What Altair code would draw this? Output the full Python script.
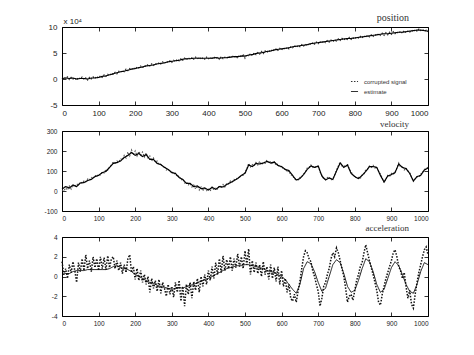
import altair as alt
import pandas as pd

SERIES = ["corrupted signal", "estimate"]
T5 = list(range(0, 1001, 5))
T10 = list(range(0, 1001, 10))
X_TICKS = list(range(0, 1001, 100))

# position (x 10^4)
pos_corrupted = [
    0.0, 0.3, 0.1, 0.4, -0.1, 0.3, 0.0, 0.2, -0.2, 0.3,
    0.0, 0.4, -0.1, 0.2, -0.2, 0.3, 0.0, 0.4, 0.1, 0.5,
    0.2, 0.6, 0.3, 0.8, 0.5, 0.9, 0.7, 1.1, 0.9, 1.3,
    1.0, 1.5, 1.3, 1.6, 1.4, 1.9, 1.6, 2.0, 1.8, 2.2,
    1.9, 2.3, 2.1, 2.5, 2.2, 2.6, 2.4, 2.8, 2.5, 2.9,
    2.6, 3.0, 2.8, 3.1, 2.9, 3.3, 3.0, 3.4, 3.2, 3.5,
    3.2, 3.6, 3.4, 3.8, 3.5, 3.9, 3.6, 4.0, 3.7, 4.1,
    3.8, 4.1, 3.8, 4.2, 3.9, 4.2, 3.8, 4.1, 3.8, 4.2,
    3.9, 4.2, 3.8, 4.3, 3.9, 4.2, 3.8, 4.3, 3.9, 4.2,
    4.0, 4.4, 4.0, 4.5, 4.1, 4.4, 4.0, 4.6, 4.2, 4.8,
    4.0, 4.7, 4.4, 4.9, 4.5, 5.0, 4.7, 5.1, 4.8, 5.3,
    4.9, 5.4, 5.1, 5.5, 5.2, 5.7, 5.4, 5.8, 5.5, 5.9,
    5.6, 6.0, 5.7, 6.1, 5.8, 6.2, 6.0, 6.4, 6.1, 6.4,
    6.2, 6.6, 6.3, 6.7, 6.4, 6.9, 6.6, 7.0, 6.7, 7.1,
    6.8, 7.2, 6.9, 7.3, 7.0, 7.4, 7.1, 7.5, 7.2, 7.5,
    7.3, 7.7, 7.4, 7.8, 7.5, 7.8, 7.6, 8.0, 7.6, 7.9,
    7.7, 8.1, 7.9, 8.2, 7.9, 8.3, 8.0, 8.4, 8.1, 8.5,
    8.2, 8.5, 8.3, 8.7, 8.4, 8.8, 8.4, 8.9, 8.5, 9.0,
    8.6, 9.1, 8.7, 9.0, 8.8, 9.2, 8.8, 9.3, 8.9, 9.2,
    9.0, 9.4, 9.1, 9.5, 9.2, 9.6, 9.3, 9.5, 9.2, 9.4,
    9.1,
]
pos_estimate = [
    0.1, 0.2, 0.1, 0.2, 0.0, 0.1, 0.1, 0.0, 0.2, 0.2,
    0.3, 0.5, 0.6, 0.8, 1.0, 1.2, 1.4, 1.5, 1.7, 1.9,
    2.0, 2.2, 2.3, 2.5, 2.6, 2.7, 2.9, 3.0, 3.1, 3.3,
    3.4, 3.5, 3.6, 3.8, 3.9, 3.9, 4.0, 4.0, 4.0, 4.0,
    4.0, 4.0, 4.1, 4.0, 4.1, 4.1, 4.2, 4.3, 4.3, 4.4,
    4.4, 4.6, 4.7, 4.9, 5.0, 5.1, 5.3, 5.4, 5.6, 5.7,
    5.8, 5.9, 6.0, 6.2, 6.3, 6.4, 6.5, 6.6, 6.8, 6.9,
    7.0, 7.1, 7.2, 7.3, 7.4, 7.5, 7.6, 7.7, 7.8, 7.8,
    7.9, 8.0, 8.1, 8.2, 8.3, 8.4, 8.5, 8.6, 8.7, 8.7,
    8.8, 8.9, 9.0, 9.0, 9.1, 9.2, 9.3, 9.4, 9.4, 9.3,
    9.2,
]

# velocity
vel_corrupted = [
    5, 0, 15, 5, 25, 10, 30, 20, 35, 30,
    45, 40, 50, 45, 60, 55, 68, 62, 78, 72,
    85, 80, 95, 90, 108, 105, 122, 130, 148, 135,
    150, 145, 162, 155, 178, 165, 195, 175, 205, 180,
    200, 175, 198, 180, 195, 170, 190, 165, 175, 150,
    165, 145, 150, 130, 138, 120, 125, 105, 110, 95,
    100, 85, 88, 70, 75, 55, 60, 40, 45, 30,
    38, 20, 30, 10, 25, 5, 20, 0, 15, 2,
    12, 0, 20, 5, 18, 10, 28, 15, 32, 20,
    38, 35, 50, 45, 58, 55, 70, 65, 80, 78,
    95, 110, 138, 120, 132, 125, 142, 130, 148, 132,
    140, 138, 155, 140, 148, 135, 145, 128, 135, 118,
    125, 108, 112, 95, 100, 80, 78, 60, 58, 55,
    68, 72, 85, 95, 115, 118, 130, 118, 125, 115,
    128, 95, 80, 60, 58, 68, 70, 55, 62, 80,
    105, 125, 145, 125, 128, 120, 135, 110, 95, 80,
    72, 65, 68, 62, 80, 85, 105, 110, 125, 118,
    128, 115, 120, 100, 85, 65, 42, 60, 78, 72,
    88, 82, 95, 115, 140, 118, 125, 105, 115, 100,
    92, 70, 48, 60, 72, 68, 85, 92, 108, 112,
    120,
]
vel_estimate = [
    10, 22, 15, 30, 22, 40, 42, 52, 58, 72,
    78, 92, 98, 118, 138, 142, 150, 168, 178, 192,
    178, 188, 172, 182, 158, 158, 138, 132, 118, 108,
    92, 88, 68, 58, 38, 38, 22, 25, 12, 15,
    5, 18, 8, 22, 20, 32, 42, 52, 62, 78,
    88, 130, 122, 138, 135, 140, 148, 140, 145, 128,
    122, 108, 102, 78, 55, 62, 82, 108, 125, 118,
    125, 75, 55, 65, 58, 100, 140, 118, 130, 88,
    72, 62, 78, 98, 122, 122, 118, 78, 45, 75,
    82, 92, 135, 118, 112, 88, 50, 72, 78, 105,
    115,
]

# acceleration
acc_corrupted = [
    1.5, 0.2, 0.8, -0.2, 1.2, 0.4, 1.5, 0.6, -0.6, 1.4,
    0.5, 1.8, 0.6, 2.2, 0.8, 1.6, 0.5, 2.0, 0.9, 1.8,
    0.6, 2.0, 0.8, 1.9, 0.7, 2.1, 0.9, 1.8, 2.0, 0.8,
    1.6, 0.6, 1.4, 0.3, 1.2, 0.4, 1.8, 2.2, 0.4, 1.0,
    -0.3, 0.8, -0.4, 0.6, -0.6, 0.2, -0.8, 0.0, -1.6, -0.2,
    -1.2, -0.4, -1.5, -0.3, -1.7, -0.6, -1.2, -2.0, -0.8, -1.8,
    -1.0, -2.1, -0.6, -1.6, -0.4, -2.5, -1.0, -3.0, -0.8, -1.8,
    -0.6, -2.2, -0.5, -1.4, -0.2, -1.6, 0.0, -1.0, 0.2, -0.8,
    0.6, -0.4, 1.0, -0.2, 1.4, 0.2, 1.8, 0.4, 2.1, 0.6,
    1.7, 0.8, 2.0, 0.6, 1.8, 0.9, 2.3, 1.0, 2.0, 0.8,
    2.6, 1.2, 2.8, 0.2, 1.6, 0.4, 1.4, 0.3, 1.2, 0.0,
    1.5, 0.2, 1.0, -0.3, 1.2, -0.2, 0.9, -0.5, 1.0, -0.8,
    0.6, -1.0, -0.2, -1.6, -0.8, -2.2, -2.5, -1.8, -2.6, -1.5,
    -0.5, 0.8, 2.0, 2.6, 2.4, 1.8, 1.5, 0.6, 0.0, -0.8,
    -1.5, -3.0, -2.2, -1.0, -0.6, 0.2, 0.8, 1.8, 2.4, 2.0,
    2.9, 2.4, 1.6, 0.8, 0.0, -1.2, -2.6, -2.0, -1.8, -2.4,
    -1.4, -0.4, 0.2, 1.0, 1.4, 2.4, 3.2, 2.4, 1.6, 0.9,
    0.2, -0.6, -1.4, -2.6, -2.9, -1.8, -1.0, -0.2, 0.4, 1.0,
    1.6, 2.4, 2.7, 2.0, 1.0, 0.6, -0.2, 0.4, -1.0, -2.2,
    -1.4, -2.8, -3.2, -1.8, -0.6, 0.4, 1.2, 2.0, 2.7, 3.0,
    2.2,
]
acc_estimate = [
    0.2, 0.3, 0.3, 0.5, 0.6, 0.6, 0.6, 0.7, 0.7, 0.7,
    0.7, 0.7, 0.7, 0.8, 1.0, 1.1, 0.9, 0.8, 0.7, 0.5,
    0.2, 0.0, -0.2, -0.4, -0.6, -0.7, -0.9, -1.0, -1.1, -1.2,
    -1.3, -1.2, -1.1, -1.2, -1.0, -0.9, -0.8, -0.6, -0.5, -0.3,
    -0.2, 0.0, 0.2, 0.4, 0.6, 0.8, 0.9, 1.0, 1.1, 1.1,
    1.2, 1.2, 1.1, 1.0, 0.9, 0.8, 0.6, 0.5, 0.4, 0.2,
    0.0, -0.3, -0.8, -1.3, -1.7, -0.8, 0.8, 1.5, 1.3, 0.5,
    -0.6, -1.5, -1.2, 0.0, 1.2, 1.7, 1.4, 0.3, -1.0, -1.6,
    -1.4, -0.4, 0.8, 1.8, 1.5, 0.5, -0.8, -1.6, -1.3, -0.2,
    0.9, 1.5, 1.1, 0.2, -0.8, -1.5, -1.7, -0.8, 0.5, 1.4,
    1.2,
]


def make_df(corr, est):
    assert len(corr) == len(T5), len(corr)
    assert len(est) == len(T10), len(est)
    d1 = pd.DataFrame({"t": T5, "value": corr, "series": SERIES[0]})
    d2 = pd.DataFrame({"t": T10, "value": est, "series": SERIES[1]})
    return pd.concat([d1, d2], ignore_index=True)


def panel(df, ydom, yticks, h, title, tsize, tdy, lsize, show_legend,
          corr_style, est_style, ytitle=None):
    xs = alt.Scale(domain=[0, 1000], nice=False, zero=False)
    ys = alt.Scale(domain=ydom, nice=False, zero=False)
    common = dict(offset=-4, tickSize=4, domain=False, grid=False,
                  tickColor="black", tickWidth=0.8)
    xax = alt.Axis(orient="bottom", values=X_TICKS, labelPadding=4,
                   labelExpr="datum.value + ''", labelColor="#222",
                   labelFont="Liberation Sans", labelFontSize=lsize,
                   title=None, **common)
    yargs = dict(orient="left", values=yticks, labelPadding=5,
                 labelExpr="datum.value + ''", labelColor="#222",
                 labelFont="Liberation Sans", labelFontSize=lsize, **common)
    if ytitle:
        yargs.update(title=ytitle, titleAngle=0, titleX=-3, titleY=-4,
                     titleAlign="left", titleBaseline="alphabetic",
                     titleFont="Liberation Sans", titleFontSize=8,
                     titleFontWeight="normal", titleColor="#222")
    else:
        yargs.update(title=None)
    yax = alt.Axis(**yargs)
    xax2 = alt.Axis(orient="top", values=X_TICKS, labels=False, title=None, **common)
    yax2 = alt.Axis(orient="right", values=yticks, labels=False, title=None, **common)

    if show_legend:
        legend = alt.Legend(orient="none", legendX=288, legendY=50, title=None,
                            symbolType="stroke", symbolSize=50,
                            symbolStrokeWidth=1.2, symbolStrokeColor="#333",
                            labelFont="Liberation Sans", labelFontSize=6,
                            labelColor="#333", rowPadding=2, labelOffset=5)
    else:
        legend = None
    dash = alt.StrokeDash("series:N",
                          scale=alt.Scale(domain=SERIES, range=[[1.5, 1.5], [1, 0]]),
                          legend=legend)

    base = alt.Chart(df)
    corr = base.transform_filter(alt.datum.series == SERIES[0]).mark_line(
        **corr_style
    ).encode(
        x=alt.X("t:Q", scale=xs, axis=xax),
        y=alt.Y("value:Q", scale=ys, axis=yax),
        strokeDash=dash,
    )
    est = base.transform_filter(alt.datum.series == SERIES[1]).mark_line(
        **est_style
    ).encode(
        x=alt.X("t:Q", scale=xs, axis=xax2),
        y=alt.Y("value:Q", scale=ys, axis=yax2),
        strokeDash=dash,
    )
    return alt.layer(corr, est).resolve_axis(x="independent", y="independent").properties(
        width=366, height=h,
        title=alt.TitleParams(text=title, anchor="end", dx=-19, dy=tdy, offset=0,
                              frame="group", baseline="alphabetic",
                              font="Liberation Serif", fontSize=tsize,
                              fontWeight="normal", color="#333"),
    )


p1 = panel(make_df(pos_corrupted, pos_estimate), [-5, 10], [-5, 0, 5, 10], 78,
           "position", 10, 14, 8, True,
           dict(color="#333", strokeWidth=1.2), dict(color="black", strokeWidth=1.1),
           ytitle="x 10⁴")
p2 = panel(make_df(vel_corrupted, vel_estimate), [-100, 300], [-100, 0, 100, 200, 300], 80,
           "velocity", 9, 8, 6.5, False,
           dict(color="#555", strokeWidth=1.1), dict(color="black", strokeWidth=1.2))
p3 = panel(make_df(acc_corrupted, acc_estimate), [-4, 4], [-4, -2, 0, 2, 4], 79,
           "acceleration", 9, 6, 6.5, False,
           dict(color="#111", strokeWidth=1.5), dict(color="black", strokeWidth=0.9))

chart = alt.vconcat(p1, p2, p3, spacing=26, bounds="flush").properties(
    padding={"left": 43, "top": 12, "right": 5, "bottom": 5},
    background="white",
).configure_view(stroke="black", strokeWidth=1)

chart.save("out.html", embed_options={"renderer": "svg", "actions": False})
